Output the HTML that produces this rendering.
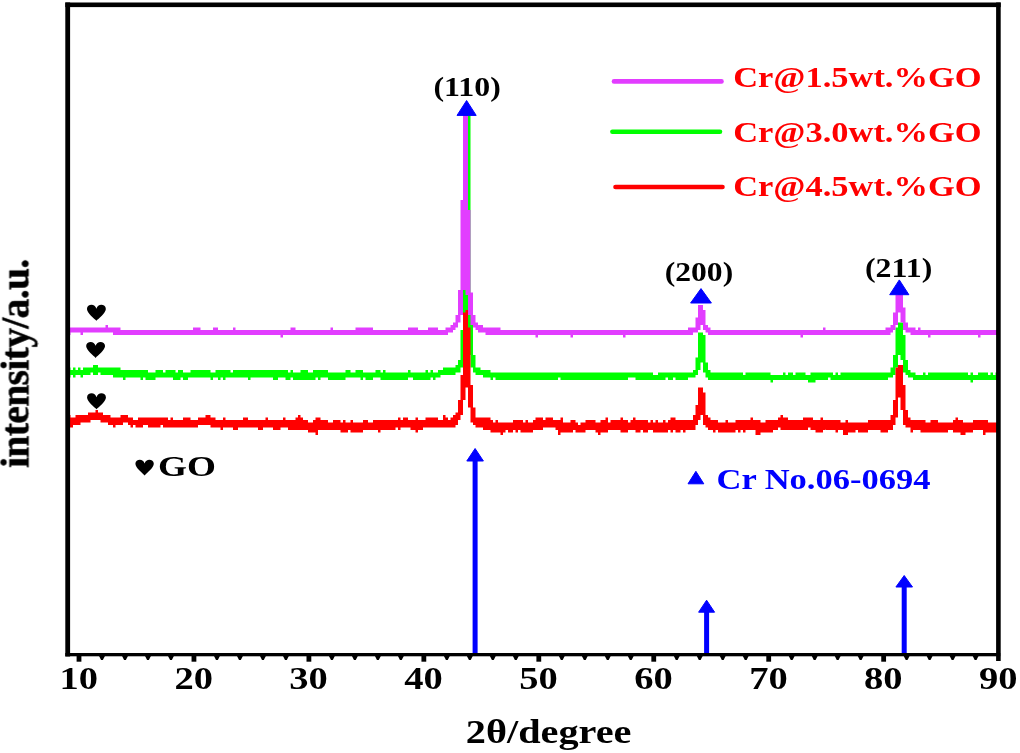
<!DOCTYPE html>
<html lang="en"><head><meta charset="utf-8"><title>XRD patterns</title>
<style>html,body{margin:0;padding:0;background:#fff}body{width:1020px;height:753px;overflow:hidden}svg{display:block}svg text{font-family:"Liberation Serif","DejaVu Serif",serif;font-weight:bold}</style>
</head><body>
<svg width="1020" height="753" viewBox="0 0 1020 753">
<rect width="1020" height="753" fill="#fff"/>
<defs><filter id="soft" x="-2%" y="-2%" width="104%" height="104%"><feGaussianBlur stdDeviation="0.4"/></filter><filter id="soft2" x="-1%" y="-1%" width="102%" height="102%"><feGaussianBlur stdDeviation="0.45"/></filter></defs>
<g id="all" filter="url(#soft2)">
<g id="curves" filter="url(#soft)">
<path d="M68 367.5h2.5v10h-2.5zM70.5 370h2.5v5h-2.5zM73 367.5h2.5v10h-2.5zM75.5 370h2.5v5h-2.5zM78 367.5h2.5v7.5h-2.5zM80.5 370h2.5v7.5h-2.5zM83 367.5h2.5v7.5h-2.5zM85.5 367.5h2.5v7.5h-2.5zM88 367.5h2.5v7.5h-2.5zM90.5 367.5h2.5v5h-2.5zM93 365h2.5v10h-2.5zM95.5 365h2.5v10h-2.5zM98 367.5h2.5v5h-2.5zM100.5 367.5h2.5v7.5h-2.5zM103 367.5h2.5v7.5h-2.5zM105.5 367.5h2.5v7.5h-2.5zM108 367.5h2.5v7.5h-2.5zM110.5 367.5h2.5v7.5h-2.5zM113 367.5h2.5v10h-2.5zM115.5 367.5h2.5v10h-2.5zM118 367.5h2.5v10h-2.5zM120.5 370h2.5v7.5h-2.5zM123 370h2.5v10h-2.5zM125.5 370h2.5v7.5h-2.5zM128 370h2.5v7.5h-2.5zM130.5 370h2.5v7.5h-2.5zM133 370h2.5v7.5h-2.5zM135.5 370h2.5v7.5h-2.5zM138 370h2.5v7.5h-2.5zM140.5 370h2.5v10h-2.5zM143 370h2.5v7.5h-2.5zM145.5 370h2.5v10h-2.5zM148 372.5h2.5v7.5h-2.5zM150.5 372.5h2.5v7.5h-2.5zM153 372.5h2.5v7.5h-2.5zM155.5 370h2.5v7.5h-2.5zM158 370h2.5v7.5h-2.5zM160.5 370h2.5v7.5h-2.5zM163 372.5h2.5v5h-2.5zM165.5 370h2.5v7.5h-2.5zM168 370h2.5v7.5h-2.5zM170.5 370h2.5v7.5h-2.5zM173 370h2.5v10h-2.5zM175.5 372.5h2.5v7.5h-2.5zM178 370h2.5v10h-2.5zM180.5 370h2.5v7.5h-2.5zM183 372.5h2.5v7.5h-2.5zM185.5 372.5h2.5v7.5h-2.5zM188 372.5h2.5v5h-2.5zM190.5 370h2.5v7.5h-2.5zM193 370h2.5v7.5h-2.5zM195.5 370h2.5v7.5h-2.5zM198 370h2.5v7.5h-2.5zM200.5 370h2.5v7.5h-2.5zM203 370h2.5v7.5h-2.5zM205.5 370h2.5v7.5h-2.5zM208 370h2.5v7.5h-2.5zM210.5 372.5h2.5v7.5h-2.5zM213 372.5h2.5v5h-2.5zM215.5 370h2.5v7.5h-2.5zM218 370h2.5v10h-2.5zM220.5 370h2.5v7.5h-2.5zM223 370h2.5v10h-2.5zM225.5 370h2.5v7.5h-2.5zM228 370h2.5v7.5h-2.5zM230.5 372.5h2.5v5h-2.5zM233 370h2.5v7.5h-2.5zM235.5 370h2.5v7.5h-2.5zM238 370h2.5v7.5h-2.5zM240.5 370h2.5v7.5h-2.5zM243 370h2.5v7.5h-2.5zM245.5 370h2.5v7.5h-2.5zM248 370h2.5v10h-2.5zM250.5 370h2.5v7.5h-2.5zM253 370h2.5v7.5h-2.5zM255.5 370h2.5v7.5h-2.5zM258 370h2.5v7.5h-2.5zM260.5 370h2.5v7.5h-2.5zM263 370h2.5v7.5h-2.5zM265.5 370h2.5v7.5h-2.5zM268 370h2.5v7.5h-2.5zM270.5 370h2.5v7.5h-2.5zM273 370h2.5v10h-2.5zM275.5 370h2.5v10h-2.5zM278 370h2.5v7.5h-2.5zM280.5 370h2.5v7.5h-2.5zM283 370h2.5v7.5h-2.5zM285.5 370h2.5v10h-2.5zM288 372.5h2.5v7.5h-2.5zM290.5 370h2.5v7.5h-2.5zM293 372.5h2.5v7.5h-2.5zM295.5 372.5h2.5v7.5h-2.5zM298 372.5h2.5v7.5h-2.5zM300.5 370h2.5v10h-2.5zM303 370h2.5v10h-2.5zM305.5 370h2.5v10h-2.5zM308 372.5h2.5v7.5h-2.5zM310.5 372.5h2.5v7.5h-2.5zM313 370h2.5v10h-2.5zM315.5 370h2.5v7.5h-2.5zM318 370h2.5v10h-2.5zM320.5 370h2.5v7.5h-2.5zM323 370h2.5v7.5h-2.5zM325.5 370h2.5v7.5h-2.5zM328 372.5h2.5v7.5h-2.5zM330.5 372.5h2.5v7.5h-2.5zM333 372.5h2.5v7.5h-2.5zM335.5 372.5h2.5v7.5h-2.5zM338 372.5h2.5v7.5h-2.5zM340.5 372.5h2.5v7.5h-2.5zM343 372.5h2.5v7.5h-2.5zM345.5 370h2.5v7.5h-2.5zM348 370h2.5v7.5h-2.5zM350.5 372.5h2.5v5h-2.5zM353 372.5h2.5v5h-2.5zM355.5 370h2.5v7.5h-2.5zM358 370h2.5v7.5h-2.5zM360.5 370h2.5v10h-2.5zM363 372.5h2.5v5h-2.5zM365.5 372.5h2.5v7.5h-2.5zM368 372.5h2.5v7.5h-2.5zM370.5 372.5h2.5v7.5h-2.5zM373 372.5h2.5v5h-2.5zM375.5 370h2.5v7.5h-2.5zM378 370h2.5v7.5h-2.5zM380.5 372.5h2.5v7.5h-2.5zM383 370h2.5v10h-2.5zM385.5 372.5h2.5v7.5h-2.5zM388 372.5h2.5v7.5h-2.5zM390.5 372.5h2.5v7.5h-2.5zM393 372.5h2.5v7.5h-2.5zM395.5 372.5h2.5v7.5h-2.5zM398 372.5h2.5v7.5h-2.5zM400.5 372.5h2.5v7.5h-2.5zM403 372.5h2.5v7.5h-2.5zM405.5 372.5h2.5v7.5h-2.5zM408 370h2.5v7.5h-2.5zM410.5 372.5h2.5v5h-2.5zM413 372.5h2.5v7.5h-2.5zM415.5 372.5h2.5v7.5h-2.5zM418 372.5h2.5v7.5h-2.5zM420.5 372.5h2.5v7.5h-2.5zM423 372.5h2.5v7.5h-2.5zM425.5 370h2.5v10h-2.5zM428 372.5h2.5v7.5h-2.5zM430.5 370h2.5v7.5h-2.5zM433 372.5h2.5v7.5h-2.5zM435.5 372.5h2.5v5h-2.5zM438 370h2.5v7.5h-2.5zM440.5 370h2.5v5h-2.5zM443 367.5h2.5v7.5h-2.5zM445.5 367.5h2.5v7.5h-2.5zM448 367.5h2.5v7.5h-2.5zM450.5 367.5h2.5v7.5h-2.5zM453 367.5h2.5v7.5h-2.5zM455.5 365h2.5v7.5h-2.5zM458 360h2.5v12.5h-2.5zM460.5 330h2.5v37.5h-2.5zM463 142.5h2.5v217.5h-2.5zM465.5 112.5h2.5v217.5h-2.5zM468 112.5h2.5v242.5h-2.5zM470.5 305h2.5v62.5h-2.5zM473 355h2.5v17.5h-2.5zM475.5 367.5h2.5v7.5h-2.5zM478 367.5h2.5v7.5h-2.5zM480.5 370h2.5v5h-2.5zM483 370h2.5v7.5h-2.5zM485.5 370h2.5v7.5h-2.5zM488 370h2.5v7.5h-2.5zM490.5 372.5h2.5v7.5h-2.5zM493 372.5h2.5v5h-2.5zM495.5 372.5h2.5v7.5h-2.5zM498 372.5h2.5v7.5h-2.5zM500.5 372.5h2.5v7.5h-2.5zM503 372.5h2.5v7.5h-2.5zM505.5 372.5h2.5v7.5h-2.5zM508 372.5h2.5v7.5h-2.5zM510.5 372.5h2.5v7.5h-2.5zM513 372.5h2.5v7.5h-2.5zM515.5 372.5h2.5v7.5h-2.5zM518 372.5h2.5v7.5h-2.5zM520.5 372.5h2.5v7.5h-2.5zM523 372.5h2.5v7.5h-2.5zM525.5 372.5h2.5v7.5h-2.5zM528 372.5h2.5v7.5h-2.5zM530.5 372.5h2.5v7.5h-2.5zM533 372.5h2.5v7.5h-2.5zM535.5 372.5h2.5v7.5h-2.5zM538 372.5h2.5v7.5h-2.5zM540.5 372.5h2.5v7.5h-2.5zM543 372.5h2.5v7.5h-2.5zM545.5 372.5h2.5v7.5h-2.5zM548 372.5h2.5v7.5h-2.5zM550.5 372.5h2.5v7.5h-2.5zM553 372.5h2.5v7.5h-2.5zM555.5 372.5h2.5v7.5h-2.5zM558 372.5h2.5v5h-2.5zM560.5 372.5h2.5v7.5h-2.5zM563 372.5h2.5v7.5h-2.5zM565.5 372.5h2.5v7.5h-2.5zM568 372.5h2.5v7.5h-2.5zM570.5 372.5h2.5v7.5h-2.5zM573 372.5h2.5v7.5h-2.5zM575.5 372.5h2.5v7.5h-2.5zM578 372.5h2.5v7.5h-2.5zM580.5 372.5h2.5v7.5h-2.5zM583 372.5h2.5v7.5h-2.5zM585.5 372.5h2.5v7.5h-2.5zM588 372.5h2.5v7.5h-2.5zM590.5 372.5h2.5v7.5h-2.5zM593 372.5h2.5v7.5h-2.5zM595.5 372.5h2.5v7.5h-2.5zM598 372.5h2.5v7.5h-2.5zM600.5 372.5h2.5v7.5h-2.5zM603 372.5h2.5v7.5h-2.5zM605.5 372.5h2.5v7.5h-2.5zM608 372.5h2.5v7.5h-2.5zM610.5 372.5h2.5v7.5h-2.5zM613 372.5h2.5v7.5h-2.5zM615.5 372.5h2.5v7.5h-2.5zM618 372.5h2.5v7.5h-2.5zM620.5 372.5h2.5v7.5h-2.5zM623 372.5h2.5v7.5h-2.5zM625.5 372.5h2.5v7.5h-2.5zM628 372.5h2.5v5h-2.5zM630.5 372.5h2.5v5h-2.5zM633 372.5h2.5v5h-2.5zM635.5 372.5h2.5v7.5h-2.5zM638 372.5h2.5v7.5h-2.5zM640.5 372.5h2.5v7.5h-2.5zM643 372.5h2.5v7.5h-2.5zM645.5 372.5h2.5v7.5h-2.5zM648 372.5h2.5v7.5h-2.5zM650.5 372.5h2.5v7.5h-2.5zM653 375h2.5v5h-2.5zM655.5 375h2.5v5h-2.5zM658 372.5h2.5v7.5h-2.5zM660.5 372.5h2.5v7.5h-2.5zM663 372.5h2.5v7.5h-2.5zM665.5 372.5h2.5v5h-2.5zM668 372.5h2.5v7.5h-2.5zM670.5 372.5h2.5v7.5h-2.5zM673 372.5h2.5v5h-2.5zM675.5 372.5h2.5v7.5h-2.5zM678 372.5h2.5v7.5h-2.5zM680.5 372.5h2.5v7.5h-2.5zM683 372.5h2.5v7.5h-2.5zM685.5 372.5h2.5v7.5h-2.5zM688 372.5h2.5v5h-2.5zM690.5 372.5h2.5v5h-2.5zM693 370h2.5v7.5h-2.5zM695.5 357.5h2.5v17.5h-2.5zM698 332.5h2.5v37.5h-2.5zM700.5 332.5h2.5v30h-2.5zM703 335h2.5v37.5h-2.5zM705.5 362.5h2.5v15h-2.5zM708 370h2.5v10h-2.5zM710.5 372.5h2.5v7.5h-2.5zM713 372.5h2.5v7.5h-2.5zM715.5 372.5h2.5v7.5h-2.5zM718 372.5h2.5v7.5h-2.5zM720.5 372.5h2.5v7.5h-2.5zM723 372.5h2.5v7.5h-2.5zM725.5 372.5h2.5v7.5h-2.5zM728 372.5h2.5v7.5h-2.5zM730.5 372.5h2.5v7.5h-2.5zM733 372.5h2.5v7.5h-2.5zM735.5 372.5h2.5v7.5h-2.5zM738 372.5h2.5v7.5h-2.5zM740.5 372.5h2.5v7.5h-2.5zM743 375h2.5v5h-2.5zM745.5 372.5h2.5v7.5h-2.5zM748 372.5h2.5v7.5h-2.5zM750.5 372.5h2.5v7.5h-2.5zM753 372.5h2.5v7.5h-2.5zM755.5 372.5h2.5v7.5h-2.5zM758 372.5h2.5v7.5h-2.5zM760.5 372.5h2.5v7.5h-2.5zM763 372.5h2.5v7.5h-2.5zM765.5 372.5h2.5v7.5h-2.5zM768 372.5h2.5v7.5h-2.5zM770.5 375h2.5v7.5h-2.5zM773 375h2.5v5h-2.5zM775.5 375h2.5v5h-2.5zM778 375h2.5v5h-2.5zM780.5 375h2.5v5h-2.5zM783 372.5h2.5v7.5h-2.5zM785.5 375h2.5v5h-2.5zM788 372.5h2.5v7.5h-2.5zM790.5 372.5h2.5v7.5h-2.5zM793 375h2.5v5h-2.5zM795.5 372.5h2.5v7.5h-2.5zM798 372.5h2.5v7.5h-2.5zM800.5 372.5h2.5v7.5h-2.5zM803 372.5h2.5v7.5h-2.5zM805.5 375h2.5v5h-2.5zM808 375h2.5v7.5h-2.5zM810.5 372.5h2.5v10h-2.5zM813 372.5h2.5v10h-2.5zM815.5 372.5h2.5v7.5h-2.5zM818 372.5h2.5v7.5h-2.5zM820.5 372.5h2.5v7.5h-2.5zM823 372.5h2.5v7.5h-2.5zM825.5 372.5h2.5v7.5h-2.5zM828 372.5h2.5v5h-2.5zM830.5 372.5h2.5v7.5h-2.5zM833 375h2.5v5h-2.5zM835.5 372.5h2.5v7.5h-2.5zM838 375h2.5v5h-2.5zM840.5 372.5h2.5v7.5h-2.5zM843 372.5h2.5v7.5h-2.5zM845.5 372.5h2.5v7.5h-2.5zM848 372.5h2.5v7.5h-2.5zM850.5 372.5h2.5v7.5h-2.5zM853 372.5h2.5v7.5h-2.5zM855.5 372.5h2.5v7.5h-2.5zM858 372.5h2.5v7.5h-2.5zM860.5 372.5h2.5v7.5h-2.5zM863 372.5h2.5v7.5h-2.5zM865.5 372.5h2.5v7.5h-2.5zM868 372.5h2.5v7.5h-2.5zM870.5 372.5h2.5v7.5h-2.5zM873 372.5h2.5v7.5h-2.5zM875.5 372.5h2.5v7.5h-2.5zM878 372.5h2.5v7.5h-2.5zM880.5 372.5h2.5v7.5h-2.5zM883 372.5h2.5v7.5h-2.5zM885.5 372.5h2.5v7.5h-2.5zM888 372.5h2.5v5h-2.5zM890.5 367.5h2.5v10h-2.5zM893 355h2.5v20h-2.5zM895.5 327.5h2.5v40h-2.5zM898 322.5h2.5v32.5h-2.5zM900.5 322.5h2.5v37.5h-2.5zM903 335h2.5v37.5h-2.5zM905.5 360h2.5v15h-2.5zM908 370h2.5v7.5h-2.5zM910.5 372.5h2.5v5h-2.5zM913 372.5h2.5v7.5h-2.5zM915.5 375h2.5v5h-2.5zM918 375h2.5v5h-2.5zM920.5 375h2.5v5h-2.5zM923 372.5h2.5v7.5h-2.5zM925.5 375h2.5v5h-2.5zM928 372.5h2.5v7.5h-2.5zM930.5 372.5h2.5v7.5h-2.5zM933 372.5h2.5v7.5h-2.5zM935.5 372.5h2.5v7.5h-2.5zM938 372.5h2.5v7.5h-2.5zM940.5 372.5h2.5v7.5h-2.5zM943 372.5h2.5v7.5h-2.5zM945.5 372.5h2.5v7.5h-2.5zM948 372.5h2.5v7.5h-2.5zM950.5 372.5h2.5v7.5h-2.5zM953 372.5h2.5v7.5h-2.5zM955.5 372.5h2.5v7.5h-2.5zM958 372.5h2.5v7.5h-2.5zM960.5 372.5h2.5v7.5h-2.5zM963 372.5h2.5v7.5h-2.5zM965.5 372.5h2.5v7.5h-2.5zM968 375h2.5v5h-2.5zM970.5 372.5h2.5v10h-2.5zM973 375h2.5v5h-2.5zM975.5 375h2.5v5h-2.5zM978 372.5h2.5v7.5h-2.5zM980.5 372.5h2.5v7.5h-2.5zM983 372.5h2.5v7.5h-2.5zM985.5 372.5h2.5v7.5h-2.5zM988 375h2.5v5h-2.5zM990.5 372.5h2.5v7.5h-2.5zM993 375h2.5v5h-2.5zM995.5 372.5h2.5v7.5h-2.5z" fill="#00ff00"/>
<path d="M68 327.5h2.5v7.5h-2.5zM70.5 327.5h2.5v5h-2.5zM73 327.5h2.5v5h-2.5zM75.5 327.5h2.5v5h-2.5zM78 327.5h2.5v5h-2.5zM80.5 327.5h2.5v7.5h-2.5zM83 327.5h2.5v5h-2.5zM85.5 327.5h2.5v5h-2.5zM88 327.5h2.5v5h-2.5zM90.5 327.5h2.5v5h-2.5zM93 327.5h2.5v5h-2.5zM95.5 327.5h2.5v5h-2.5zM98 327.5h2.5v5h-2.5zM100.5 327.5h2.5v5h-2.5zM103 327.5h2.5v5h-2.5zM105.5 325h2.5v7.5h-2.5zM108 327.5h2.5v5h-2.5zM110.5 327.5h2.5v5h-2.5zM113 327.5h2.5v7.5h-2.5zM115.5 327.5h2.5v7.5h-2.5zM118 327.5h2.5v7.5h-2.5zM120.5 330h2.5v5h-2.5zM123 330h2.5v5h-2.5zM125.5 330h2.5v5h-2.5zM128 330h2.5v5h-2.5zM130.5 330h2.5v5h-2.5zM133 330h2.5v5h-2.5zM135.5 330h2.5v5h-2.5zM138 330h2.5v5h-2.5zM140.5 330h2.5v5h-2.5zM143 330h2.5v5h-2.5zM145.5 330h2.5v5h-2.5zM148 330h2.5v5h-2.5zM150.5 330h2.5v5h-2.5zM153 330h2.5v5h-2.5zM155.5 330h2.5v5h-2.5zM158 330h2.5v5h-2.5zM160.5 330h2.5v5h-2.5zM163 330h2.5v5h-2.5zM165.5 330h2.5v5h-2.5zM168 330h2.5v5h-2.5zM170.5 330h2.5v5h-2.5zM173 330h2.5v5h-2.5zM175.5 330h2.5v5h-2.5zM178 330h2.5v5h-2.5zM180.5 330h2.5v5h-2.5zM183 330h2.5v5h-2.5zM185.5 330h2.5v5h-2.5zM188 330h2.5v5h-2.5zM190.5 330h2.5v5h-2.5zM193 327.5h2.5v7.5h-2.5zM195.5 327.5h2.5v7.5h-2.5zM198 327.5h2.5v7.5h-2.5zM200.5 330h2.5v5h-2.5zM203 330h2.5v5h-2.5zM205.5 330h2.5v5h-2.5zM208 330h2.5v5h-2.5zM210.5 330h2.5v5h-2.5zM213 327.5h2.5v7.5h-2.5zM215.5 327.5h2.5v7.5h-2.5zM218 330h2.5v5h-2.5zM220.5 330h2.5v5h-2.5zM223 330h2.5v5h-2.5zM225.5 330h2.5v5h-2.5zM228 330h2.5v5h-2.5zM230.5 330h2.5v5h-2.5zM233 327.5h2.5v7.5h-2.5zM235.5 330h2.5v5h-2.5zM238 330h2.5v5h-2.5zM240.5 330h2.5v5h-2.5zM243 330h2.5v5h-2.5zM245.5 330h2.5v5h-2.5zM248 330h2.5v5h-2.5zM250.5 330h2.5v5h-2.5zM253 330h2.5v5h-2.5zM255.5 330h2.5v5h-2.5zM258 330h2.5v5h-2.5zM260.5 330h2.5v5h-2.5zM263 330h2.5v5h-2.5zM265.5 330h2.5v5h-2.5zM268 330h2.5v5h-2.5zM270.5 330h2.5v5h-2.5zM273 330h2.5v5h-2.5zM275.5 330h2.5v5h-2.5zM278 330h2.5v5h-2.5zM280.5 330h2.5v7.5h-2.5zM283 330h2.5v5h-2.5zM285.5 330h2.5v5h-2.5zM288 330h2.5v5h-2.5zM290.5 327.5h2.5v7.5h-2.5zM293 327.5h2.5v7.5h-2.5zM295.5 330h2.5v5h-2.5zM298 330h2.5v5h-2.5zM300.5 330h2.5v5h-2.5zM303 330h2.5v5h-2.5zM305.5 330h2.5v5h-2.5zM308 330h2.5v5h-2.5zM310.5 330h2.5v5h-2.5zM313 330h2.5v5h-2.5zM315.5 330h2.5v5h-2.5zM318 330h2.5v5h-2.5zM320.5 330h2.5v5h-2.5zM323 330h2.5v5h-2.5zM325.5 330h2.5v5h-2.5zM328 330h2.5v5h-2.5zM330.5 327.5h2.5v7.5h-2.5zM333 330h2.5v5h-2.5zM335.5 330h2.5v5h-2.5zM338 330h2.5v5h-2.5zM340.5 330h2.5v5h-2.5zM343 330h2.5v5h-2.5zM345.5 330h2.5v5h-2.5zM348 330h2.5v5h-2.5zM350.5 330h2.5v5h-2.5zM353 330h2.5v5h-2.5zM355.5 327.5h2.5v7.5h-2.5zM358 327.5h2.5v7.5h-2.5zM360.5 327.5h2.5v7.5h-2.5zM363 327.5h2.5v7.5h-2.5zM365.5 327.5h2.5v7.5h-2.5zM368 327.5h2.5v7.5h-2.5zM370.5 327.5h2.5v7.5h-2.5zM373 330h2.5v5h-2.5zM375.5 330h2.5v5h-2.5zM378 330h2.5v5h-2.5zM380.5 330h2.5v5h-2.5zM383 330h2.5v5h-2.5zM385.5 330h2.5v5h-2.5zM388 330h2.5v5h-2.5zM390.5 330h2.5v5h-2.5zM393 330h2.5v5h-2.5zM395.5 330h2.5v5h-2.5zM398 330h2.5v5h-2.5zM400.5 330h2.5v5h-2.5zM403 330h2.5v5h-2.5zM405.5 330h2.5v5h-2.5zM408 327.5h2.5v7.5h-2.5zM410.5 327.5h2.5v7.5h-2.5zM413 327.5h2.5v7.5h-2.5zM415.5 327.5h2.5v7.5h-2.5zM418 330h2.5v5h-2.5zM420.5 330h2.5v5h-2.5zM423 330h2.5v5h-2.5zM425.5 330h2.5v5h-2.5zM428 327.5h2.5v7.5h-2.5zM430.5 327.5h2.5v7.5h-2.5zM433 327.5h2.5v7.5h-2.5zM435.5 327.5h2.5v7.5h-2.5zM438 330h2.5v5h-2.5zM440.5 330h2.5v5h-2.5zM443 330h2.5v5h-2.5zM445.5 327.5h2.5v7.5h-2.5zM448 327.5h2.5v5h-2.5zM450.5 325h2.5v7.5h-2.5zM453 322.5h2.5v7.5h-2.5zM455.5 315h2.5v12.5h-2.5zM458 290h2.5v32.5h-2.5zM460.5 200h2.5v115h-2.5zM463 112.5h2.5v177.5h-2.5zM465.5 112.5h2.5v182.5h-2.5zM468 210h2.5v105h-2.5zM470.5 292.5h2.5v32.5h-2.5zM473 315h2.5v12.5h-2.5zM475.5 322.5h2.5v7.5h-2.5zM478 325h2.5v7.5h-2.5zM480.5 325h2.5v7.5h-2.5zM483 327.5h2.5v5h-2.5zM485.5 327.5h2.5v7.5h-2.5zM488 327.5h2.5v7.5h-2.5zM490.5 327.5h2.5v7.5h-2.5zM493 327.5h2.5v7.5h-2.5zM495.5 327.5h2.5v7.5h-2.5zM498 327.5h2.5v7.5h-2.5zM500.5 330h2.5v5h-2.5zM503 330h2.5v5h-2.5zM505.5 330h2.5v5h-2.5zM508 330h2.5v5h-2.5zM510.5 330h2.5v5h-2.5zM513 330h2.5v5h-2.5zM515.5 330h2.5v5h-2.5zM518 330h2.5v5h-2.5zM520.5 330h2.5v5h-2.5zM523 330h2.5v5h-2.5zM525.5 330h2.5v5h-2.5zM528 330h2.5v5h-2.5zM530.5 330h2.5v5h-2.5zM533 330h2.5v5h-2.5zM535.5 330h2.5v7.5h-2.5zM538 330h2.5v5h-2.5zM540.5 330h2.5v5h-2.5zM543 330h2.5v5h-2.5zM545.5 330h2.5v5h-2.5zM548 330h2.5v5h-2.5zM550.5 330h2.5v5h-2.5zM553 330h2.5v5h-2.5zM555.5 330h2.5v5h-2.5zM558 330h2.5v5h-2.5zM560.5 330h2.5v5h-2.5zM563 330h2.5v5h-2.5zM565.5 330h2.5v5h-2.5zM568 330h2.5v5h-2.5zM570.5 330h2.5v7.5h-2.5zM573 330h2.5v5h-2.5zM575.5 330h2.5v5h-2.5zM578 330h2.5v5h-2.5zM580.5 330h2.5v5h-2.5zM583 330h2.5v5h-2.5zM585.5 330h2.5v5h-2.5zM588 330h2.5v5h-2.5zM590.5 330h2.5v5h-2.5zM593 330h2.5v5h-2.5zM595.5 330h2.5v5h-2.5zM598 330h2.5v5h-2.5zM600.5 330h2.5v5h-2.5zM603 330h2.5v5h-2.5zM605.5 330h2.5v5h-2.5zM608 330h2.5v5h-2.5zM610.5 330h2.5v5h-2.5zM613 330h2.5v5h-2.5zM615.5 330h2.5v5h-2.5zM618 330h2.5v5h-2.5zM620.5 330h2.5v5h-2.5zM623 330h2.5v7.5h-2.5zM625.5 330h2.5v5h-2.5zM628 330h2.5v5h-2.5zM630.5 330h2.5v5h-2.5zM633 330h2.5v5h-2.5zM635.5 330h2.5v5h-2.5zM638 330h2.5v5h-2.5zM640.5 330h2.5v5h-2.5zM643 330h2.5v5h-2.5zM645.5 330h2.5v5h-2.5zM648 330h2.5v5h-2.5zM650.5 330h2.5v5h-2.5zM653 330h2.5v5h-2.5zM655.5 330h2.5v5h-2.5zM658 330h2.5v5h-2.5zM660.5 330h2.5v5h-2.5zM663 330h2.5v5h-2.5zM665.5 330h2.5v5h-2.5zM668 330h2.5v5h-2.5zM670.5 330h2.5v5h-2.5zM673 330h2.5v5h-2.5zM675.5 330h2.5v5h-2.5zM678 330h2.5v5h-2.5zM680.5 330h2.5v5h-2.5zM683 330h2.5v5h-2.5zM685.5 330h2.5v5h-2.5zM688 327.5h2.5v7.5h-2.5zM690.5 327.5h2.5v7.5h-2.5zM693 327.5h2.5v5h-2.5zM695.5 317.5h2.5v15h-2.5zM698 305h2.5v25h-2.5zM700.5 305h2.5v20h-2.5zM703 310h2.5v20h-2.5zM705.5 325h2.5v7.5h-2.5zM708 327.5h2.5v7.5h-2.5zM710.5 330h2.5v5h-2.5zM713 330h2.5v5h-2.5zM715.5 330h2.5v5h-2.5zM718 330h2.5v5h-2.5zM720.5 330h2.5v5h-2.5zM723 330h2.5v5h-2.5zM725.5 330h2.5v5h-2.5zM728 330h2.5v5h-2.5zM730.5 330h2.5v5h-2.5zM733 330h2.5v5h-2.5zM735.5 330h2.5v5h-2.5zM738 330h2.5v5h-2.5zM740.5 330h2.5v5h-2.5zM743 330h2.5v5h-2.5zM745.5 330h2.5v5h-2.5zM748 330h2.5v5h-2.5zM750.5 330h2.5v5h-2.5zM753 330h2.5v5h-2.5zM755.5 330h2.5v5h-2.5zM758 330h2.5v5h-2.5zM760.5 330h2.5v5h-2.5zM763 330h2.5v5h-2.5zM765.5 330h2.5v5h-2.5zM768 330h2.5v5h-2.5zM770.5 330h2.5v5h-2.5zM773 330h2.5v5h-2.5zM775.5 330h2.5v5h-2.5zM778 330h2.5v5h-2.5zM780.5 330h2.5v5h-2.5zM783 330h2.5v5h-2.5zM785.5 330h2.5v5h-2.5zM788 330h2.5v5h-2.5zM790.5 330h2.5v5h-2.5zM793 330h2.5v5h-2.5zM795.5 330h2.5v5h-2.5zM798 330h2.5v5h-2.5zM800.5 330h2.5v7.5h-2.5zM803 330h2.5v5h-2.5zM805.5 330h2.5v5h-2.5zM808 330h2.5v5h-2.5zM810.5 330h2.5v5h-2.5zM813 330h2.5v5h-2.5zM815.5 330h2.5v5h-2.5zM818 330h2.5v5h-2.5zM820.5 330h2.5v5h-2.5zM823 327.5h2.5v7.5h-2.5zM825.5 330h2.5v5h-2.5zM828 330h2.5v5h-2.5zM830.5 330h2.5v5h-2.5zM833 330h2.5v5h-2.5zM835.5 330h2.5v5h-2.5zM838 330h2.5v5h-2.5zM840.5 330h2.5v5h-2.5zM843 330h2.5v5h-2.5zM845.5 330h2.5v5h-2.5zM848 330h2.5v5h-2.5zM850.5 330h2.5v5h-2.5zM853 330h2.5v5h-2.5zM855.5 330h2.5v5h-2.5zM858 330h2.5v5h-2.5zM860.5 330h2.5v5h-2.5zM863 330h2.5v5h-2.5zM865.5 330h2.5v5h-2.5zM868 330h2.5v5h-2.5zM870.5 330h2.5v5h-2.5zM873 330h2.5v5h-2.5zM875.5 330h2.5v5h-2.5zM878 330h2.5v5h-2.5zM880.5 330h2.5v5h-2.5zM883 330h2.5v5h-2.5zM885.5 327.5h2.5v7.5h-2.5zM888 327.5h2.5v7.5h-2.5zM890.5 325h2.5v7.5h-2.5zM893 312.5h2.5v17.5h-2.5zM895.5 295h2.5v30h-2.5zM898 292.5h2.5v20h-2.5zM900.5 295h2.5v27.5h-2.5zM903 307.5h2.5v22.5h-2.5zM905.5 322.5h2.5v10h-2.5zM908 327.5h2.5v5h-2.5zM910.5 327.5h2.5v7.5h-2.5zM913 327.5h2.5v7.5h-2.5zM915.5 330h2.5v5h-2.5zM918 327.5h2.5v7.5h-2.5zM920.5 330h2.5v5h-2.5zM923 330h2.5v5h-2.5zM925.5 330h2.5v5h-2.5zM928 330h2.5v7.5h-2.5zM930.5 330h2.5v5h-2.5zM933 330h2.5v5h-2.5zM935.5 330h2.5v5h-2.5zM938 330h2.5v5h-2.5zM940.5 330h2.5v5h-2.5zM943 330h2.5v5h-2.5zM945.5 330h2.5v5h-2.5zM948 330h2.5v5h-2.5zM950.5 330h2.5v5h-2.5zM953 330h2.5v5h-2.5zM955.5 330h2.5v5h-2.5zM958 330h2.5v5h-2.5zM960.5 330h2.5v5h-2.5zM963 330h2.5v5h-2.5zM965.5 330h2.5v5h-2.5zM968 330h2.5v5h-2.5zM970.5 330h2.5v5h-2.5zM973 330h2.5v5h-2.5zM975.5 330h2.5v5h-2.5zM978 330h2.5v7.5h-2.5zM980.5 330h2.5v5h-2.5zM983 330h2.5v5h-2.5zM985.5 330h2.5v5h-2.5zM988 330h2.5v5h-2.5zM990.5 330h2.5v5h-2.5zM993 330h2.5v5h-2.5zM995.5 330h2.5v5h-2.5z" fill="#e23cff"/>
<path d="M68 415h2.5v12.5h-2.5zM70.5 417.5h2.5v10h-2.5zM73 417.5h2.5v7.5h-2.5zM75.5 415h2.5v10h-2.5zM78 415h2.5v10h-2.5zM80.5 415h2.5v7.5h-2.5zM83 415h2.5v7.5h-2.5zM85.5 415h2.5v7.5h-2.5zM88 412.5h2.5v10h-2.5zM90.5 412.5h2.5v7.5h-2.5zM93 412.5h2.5v7.5h-2.5zM95.5 410h2.5v10h-2.5zM98 412.5h2.5v7.5h-2.5zM100.5 412.5h2.5v10h-2.5zM103 415h2.5v7.5h-2.5zM105.5 415h2.5v7.5h-2.5zM108 415h2.5v10h-2.5zM110.5 417.5h2.5v7.5h-2.5zM113 417.5h2.5v10h-2.5zM115.5 417.5h2.5v7.5h-2.5zM118 417.5h2.5v7.5h-2.5zM120.5 415h2.5v10h-2.5zM123 415h2.5v7.5h-2.5zM125.5 415h2.5v7.5h-2.5zM128 417.5h2.5v7.5h-2.5zM130.5 417.5h2.5v10h-2.5zM133 420h2.5v5h-2.5zM135.5 420h2.5v7.5h-2.5zM138 417.5h2.5v10h-2.5zM140.5 417.5h2.5v10h-2.5zM143 417.5h2.5v7.5h-2.5zM145.5 417.5h2.5v7.5h-2.5zM148 417.5h2.5v10h-2.5zM150.5 417.5h2.5v10h-2.5zM153 417.5h2.5v10h-2.5zM155.5 417.5h2.5v10h-2.5zM158 417.5h2.5v10h-2.5zM160.5 417.5h2.5v7.5h-2.5zM163 417.5h2.5v10h-2.5zM165.5 417.5h2.5v10h-2.5zM168 420h2.5v7.5h-2.5zM170.5 417.5h2.5v10h-2.5zM173 420h2.5v7.5h-2.5zM175.5 420h2.5v7.5h-2.5zM178 420h2.5v7.5h-2.5zM180.5 420h2.5v7.5h-2.5zM183 417.5h2.5v10h-2.5zM185.5 417.5h2.5v10h-2.5zM188 417.5h2.5v10h-2.5zM190.5 420h2.5v7.5h-2.5zM193 420h2.5v7.5h-2.5zM195.5 420h2.5v7.5h-2.5zM198 417.5h2.5v7.5h-2.5zM200.5 417.5h2.5v7.5h-2.5zM203 417.5h2.5v7.5h-2.5zM205.5 415h2.5v10h-2.5zM208 415h2.5v10h-2.5zM210.5 417.5h2.5v10h-2.5zM213 417.5h2.5v10h-2.5zM215.5 420h2.5v7.5h-2.5zM218 420h2.5v7.5h-2.5zM220.5 420h2.5v10h-2.5zM223 417.5h2.5v10h-2.5zM225.5 420h2.5v7.5h-2.5zM228 420h2.5v7.5h-2.5zM230.5 420h2.5v7.5h-2.5zM233 420h2.5v10h-2.5zM235.5 420h2.5v10h-2.5zM238 420h2.5v7.5h-2.5zM240.5 420h2.5v7.5h-2.5zM243 417.5h2.5v10h-2.5zM245.5 417.5h2.5v10h-2.5zM248 420h2.5v7.5h-2.5zM250.5 420h2.5v7.5h-2.5zM253 420h2.5v7.5h-2.5zM255.5 420h2.5v7.5h-2.5zM258 420h2.5v10h-2.5zM260.5 420h2.5v10h-2.5zM263 420h2.5v7.5h-2.5zM265.5 417.5h2.5v10h-2.5zM268 420h2.5v7.5h-2.5zM270.5 420h2.5v7.5h-2.5zM273 420h2.5v10h-2.5zM275.5 420h2.5v10h-2.5zM278 420h2.5v10h-2.5zM280.5 420h2.5v7.5h-2.5zM283 417.5h2.5v10h-2.5zM285.5 420h2.5v7.5h-2.5zM288 420h2.5v10h-2.5zM290.5 420h2.5v10h-2.5zM293 420h2.5v10h-2.5zM295.5 417.5h2.5v12.5h-2.5zM298 415h2.5v15h-2.5zM300.5 417.5h2.5v12.5h-2.5zM303 420h2.5v10h-2.5zM305.5 420h2.5v10h-2.5zM308 422.5h2.5v10h-2.5zM310.5 422.5h2.5v10h-2.5zM313 420h2.5v12.5h-2.5zM315.5 417.5h2.5v17.5h-2.5zM318 417.5h2.5v12.5h-2.5zM320.5 420h2.5v10h-2.5zM323 420h2.5v10h-2.5zM325.5 420h2.5v10h-2.5zM328 422.5h2.5v7.5h-2.5zM330.5 422.5h2.5v7.5h-2.5zM333 420h2.5v10h-2.5zM335.5 420h2.5v10h-2.5zM338 420h2.5v10h-2.5zM340.5 422.5h2.5v10h-2.5zM343 420h2.5v12.5h-2.5zM345.5 422.5h2.5v10h-2.5zM348 422.5h2.5v7.5h-2.5zM350.5 420h2.5v12.5h-2.5zM353 422.5h2.5v10h-2.5zM355.5 422.5h2.5v10h-2.5zM358 422.5h2.5v10h-2.5zM360.5 422.5h2.5v10h-2.5zM363 420h2.5v10h-2.5zM365.5 420h2.5v10h-2.5zM368 422.5h2.5v7.5h-2.5zM370.5 422.5h2.5v7.5h-2.5zM373 420h2.5v10h-2.5zM375.5 420h2.5v10h-2.5zM378 420h2.5v12.5h-2.5zM380.5 420h2.5v10h-2.5zM383 420h2.5v10h-2.5zM385.5 420h2.5v10h-2.5zM388 420h2.5v10h-2.5zM390.5 420h2.5v10h-2.5zM393 420h2.5v10h-2.5zM395.5 420h2.5v7.5h-2.5zM398 417.5h2.5v12.5h-2.5zM400.5 420h2.5v7.5h-2.5zM403 417.5h2.5v10h-2.5zM405.5 417.5h2.5v10h-2.5zM408 420h2.5v7.5h-2.5zM410.5 420h2.5v10h-2.5zM413 420h2.5v10h-2.5zM415.5 417.5h2.5v15h-2.5zM418 420h2.5v10h-2.5zM420.5 420h2.5v10h-2.5zM423 420h2.5v7.5h-2.5zM425.5 417.5h2.5v10h-2.5zM428 417.5h2.5v10h-2.5zM430.5 417.5h2.5v10h-2.5zM433 417.5h2.5v10h-2.5zM435.5 417.5h2.5v10h-2.5zM438 420h2.5v7.5h-2.5zM440.5 420h2.5v7.5h-2.5zM443 415h2.5v12.5h-2.5zM445.5 417.5h2.5v10h-2.5zM448 420h2.5v7.5h-2.5zM450.5 417.5h2.5v10h-2.5zM453 415h2.5v12.5h-2.5zM455.5 412.5h2.5v12.5h-2.5zM458 400h2.5v20h-2.5zM460.5 375h2.5v40h-2.5zM463 312.5h2.5v87.5h-2.5zM465.5 310h2.5v77.5h-2.5zM468 327.5h2.5v80h-2.5zM470.5 385h2.5v37.5h-2.5zM473 407.5h2.5v17.5h-2.5zM475.5 417.5h2.5v10h-2.5zM478 417.5h2.5v10h-2.5zM480.5 417.5h2.5v10h-2.5zM483 417.5h2.5v12.5h-2.5zM485.5 417.5h2.5v12.5h-2.5zM488 417.5h2.5v12.5h-2.5zM490.5 420h2.5v12.5h-2.5zM493 422.5h2.5v10h-2.5zM495.5 420h2.5v12.5h-2.5zM498 422.5h2.5v10h-2.5zM500.5 422.5h2.5v12.5h-2.5zM503 422.5h2.5v10h-2.5zM505.5 422.5h2.5v7.5h-2.5zM508 422.5h2.5v10h-2.5zM510.5 422.5h2.5v10h-2.5zM513 420h2.5v10h-2.5zM515.5 420h2.5v12.5h-2.5zM518 420h2.5v10h-2.5zM520.5 420h2.5v12.5h-2.5zM523 422.5h2.5v10h-2.5zM525.5 420h2.5v12.5h-2.5zM528 422.5h2.5v10h-2.5zM530.5 422.5h2.5v10h-2.5zM533 420h2.5v10h-2.5zM535.5 417.5h2.5v12.5h-2.5zM538 417.5h2.5v12.5h-2.5zM540.5 417.5h2.5v12.5h-2.5zM543 420h2.5v7.5h-2.5zM545.5 417.5h2.5v10h-2.5zM548 417.5h2.5v10h-2.5zM550.5 417.5h2.5v10h-2.5zM553 420h2.5v7.5h-2.5zM555.5 420h2.5v10h-2.5zM558 420h2.5v15h-2.5zM560.5 417.5h2.5v15h-2.5zM563 422.5h2.5v10h-2.5zM565.5 422.5h2.5v10h-2.5zM568 422.5h2.5v10h-2.5zM570.5 420h2.5v12.5h-2.5zM573 420h2.5v10h-2.5zM575.5 422.5h2.5v10h-2.5zM578 425h2.5v7.5h-2.5zM580.5 422.5h2.5v10h-2.5zM583 422.5h2.5v10h-2.5zM585.5 420h2.5v10h-2.5zM588 420h2.5v10h-2.5zM590.5 420h2.5v10h-2.5zM593 420h2.5v10h-2.5zM595.5 422.5h2.5v10h-2.5zM598 422.5h2.5v12.5h-2.5zM600.5 420h2.5v12.5h-2.5zM603 420h2.5v12.5h-2.5zM605.5 417.5h2.5v15h-2.5zM608 422.5h2.5v7.5h-2.5zM610.5 420h2.5v10h-2.5zM613 420h2.5v10h-2.5zM615.5 420h2.5v10h-2.5zM618 420h2.5v10h-2.5zM620.5 417.5h2.5v15h-2.5zM623 420h2.5v12.5h-2.5zM625.5 420h2.5v12.5h-2.5zM628 422.5h2.5v7.5h-2.5zM630.5 420h2.5v10h-2.5zM633 417.5h2.5v12.5h-2.5zM635.5 420h2.5v12.5h-2.5zM638 420h2.5v12.5h-2.5zM640.5 420h2.5v10h-2.5zM643 420h2.5v12.5h-2.5zM645.5 420h2.5v12.5h-2.5zM648 422.5h2.5v7.5h-2.5zM650.5 420h2.5v10h-2.5zM653 422.5h2.5v10h-2.5zM655.5 420h2.5v12.5h-2.5zM658 422.5h2.5v10h-2.5zM660.5 422.5h2.5v10h-2.5zM663 420h2.5v12.5h-2.5zM665.5 422.5h2.5v10h-2.5zM668 420h2.5v10h-2.5zM670.5 417.5h2.5v15h-2.5zM673 417.5h2.5v12.5h-2.5zM675.5 420h2.5v12.5h-2.5zM678 420h2.5v12.5h-2.5zM680.5 420h2.5v10h-2.5zM683 420h2.5v12.5h-2.5zM685.5 420h2.5v10h-2.5zM688 420h2.5v10h-2.5zM690.5 420h2.5v10h-2.5zM693 415h2.5v15h-2.5zM695.5 405h2.5v20h-2.5zM698 387.5h2.5v32.5h-2.5zM700.5 387.5h2.5v27.5h-2.5zM703 392.5h2.5v32.5h-2.5zM705.5 415h2.5v12.5h-2.5zM708 417.5h2.5v12.5h-2.5zM710.5 420h2.5v10h-2.5zM713 420h2.5v12.5h-2.5zM715.5 420h2.5v10h-2.5zM718 422.5h2.5v10h-2.5zM720.5 422.5h2.5v10h-2.5zM723 422.5h2.5v10h-2.5zM725.5 420h2.5v12.5h-2.5zM728 422.5h2.5v10h-2.5zM730.5 422.5h2.5v10h-2.5zM733 422.5h2.5v10h-2.5zM735.5 420h2.5v10h-2.5zM738 420h2.5v12.5h-2.5zM740.5 420h2.5v10h-2.5zM743 420h2.5v12.5h-2.5zM745.5 420h2.5v10h-2.5zM748 420h2.5v10h-2.5zM750.5 417.5h2.5v12.5h-2.5zM753 420h2.5v10h-2.5zM755.5 420h2.5v15h-2.5zM758 420h2.5v15h-2.5zM760.5 422.5h2.5v10h-2.5zM763 422.5h2.5v10h-2.5zM765.5 420h2.5v12.5h-2.5zM768 420h2.5v12.5h-2.5zM770.5 420h2.5v12.5h-2.5zM773 420h2.5v10h-2.5zM775.5 420h2.5v10h-2.5zM778 417.5h2.5v10h-2.5zM780.5 415h2.5v15h-2.5zM783 417.5h2.5v12.5h-2.5zM785.5 417.5h2.5v12.5h-2.5zM788 420h2.5v10h-2.5zM790.5 420h2.5v10h-2.5zM793 420h2.5v10h-2.5zM795.5 420h2.5v10h-2.5zM798 420h2.5v10h-2.5zM800.5 420h2.5v10h-2.5zM803 417.5h2.5v12.5h-2.5zM805.5 417.5h2.5v12.5h-2.5zM808 417.5h2.5v10h-2.5zM810.5 417.5h2.5v12.5h-2.5zM813 420h2.5v10h-2.5zM815.5 420h2.5v12.5h-2.5zM818 420h2.5v12.5h-2.5zM820.5 417.5h2.5v15h-2.5zM823 420h2.5v10h-2.5zM825.5 420h2.5v10h-2.5zM828 420h2.5v10h-2.5zM830.5 420h2.5v10h-2.5zM833 420h2.5v10h-2.5zM835.5 420h2.5v12.5h-2.5zM838 420h2.5v10h-2.5zM840.5 422.5h2.5v7.5h-2.5zM843 422.5h2.5v12.5h-2.5zM845.5 420h2.5v15h-2.5zM848 422.5h2.5v10h-2.5zM850.5 422.5h2.5v10h-2.5zM853 422.5h2.5v10h-2.5zM855.5 422.5h2.5v7.5h-2.5zM858 422.5h2.5v10h-2.5zM860.5 422.5h2.5v10h-2.5zM863 422.5h2.5v10h-2.5zM865.5 422.5h2.5v10h-2.5zM868 420h2.5v10h-2.5zM870.5 420h2.5v10h-2.5zM873 420h2.5v10h-2.5zM875.5 420h2.5v10h-2.5zM878 420h2.5v10h-2.5zM880.5 420h2.5v12.5h-2.5zM883 420h2.5v12.5h-2.5zM885.5 420h2.5v12.5h-2.5zM888 420h2.5v10h-2.5zM890.5 415h2.5v15h-2.5zM893 400h2.5v25h-2.5zM895.5 367.5h2.5v50h-2.5zM898 365h2.5v32.5h-2.5zM900.5 365h2.5v45h-2.5zM903 385h2.5v40h-2.5zM905.5 410h2.5v17.5h-2.5zM908 417.5h2.5v10h-2.5zM910.5 420h2.5v12.5h-2.5zM913 420h2.5v10h-2.5zM915.5 420h2.5v10h-2.5zM918 420h2.5v10h-2.5zM920.5 420h2.5v12.5h-2.5zM923 420h2.5v12.5h-2.5zM925.5 422.5h2.5v10h-2.5zM928 422.5h2.5v10h-2.5zM930.5 420h2.5v12.5h-2.5zM933 420h2.5v12.5h-2.5zM935.5 420h2.5v12.5h-2.5zM938 422.5h2.5v10h-2.5zM940.5 422.5h2.5v10h-2.5zM943 422.5h2.5v10h-2.5zM945.5 422.5h2.5v10h-2.5zM948 422.5h2.5v7.5h-2.5zM950.5 422.5h2.5v7.5h-2.5zM953 420h2.5v12.5h-2.5zM955.5 417.5h2.5v15h-2.5zM958 420h2.5v12.5h-2.5zM960.5 420h2.5v15h-2.5zM963 422.5h2.5v12.5h-2.5zM965.5 422.5h2.5v10h-2.5zM968 422.5h2.5v10h-2.5zM970.5 422.5h2.5v10h-2.5zM973 420h2.5v10h-2.5zM975.5 420h2.5v10h-2.5zM978 420h2.5v10h-2.5zM980.5 420h2.5v10h-2.5zM983 420h2.5v15h-2.5zM985.5 420h2.5v12.5h-2.5zM988 422.5h2.5v10h-2.5zM990.5 422.5h2.5v10h-2.5zM993 422.5h2.5v10h-2.5zM995.5 422.5h2.5v10h-2.5z" fill="#ff0000"/>
</g>
<g id="ref">
<rect x="472.60" y="460.00" width="5" height="195.00" fill="#0000ff"/><polygon points="475.10,448.50 483.40,461.00 466.80,461.00" fill="#0000ff" stroke="#0000ff" stroke-width="1" stroke-linejoin="round"/>
<rect x="704.10" y="611.20" width="5" height="43.80" fill="#0000ff"/><polygon points="706.60,600.20 714.60,612.20 698.60,612.20" fill="#0000ff" stroke="#0000ff" stroke-width="1" stroke-linejoin="round"/>
<rect x="901.70" y="586.00" width="5" height="69.00" fill="#0000ff"/><polygon points="904.20,575.50 912.50,587.00 895.90,587.00" fill="#0000ff" stroke="#0000ff" stroke-width="1" stroke-linejoin="round"/>
</g>
<g id="tri">
<polygon points="466.60,100.50 476.20,115.40 457.00,115.40" fill="#0000ff" stroke="#0000ff" stroke-width="1" stroke-linejoin="round"/>
<polygon points="701.00,288.60 711.40,303.00 690.60,303.00" fill="#0000ff" stroke="#0000ff" stroke-width="1" stroke-linejoin="round"/>
<polygon points="899.30,279.90 908.90,294.70 889.70,294.70" fill="#0000ff" stroke="#0000ff" stroke-width="1" stroke-linejoin="round"/>
<polygon points="695.90,471.30 703.80,483.80 688.00,483.80" fill="#0000ff" stroke="#0000ff" stroke-width="1" stroke-linejoin="round"/>
</g>
<g id="frame" fill="#000">
<rect x="65.3" y="2.5" width="4.8" height="654"/>
<rect x="65.3" y="2.5" width="935.4" height="4.6"/>
<rect x="996.1" y="2.5" width="4.6" height="658.5"/>
<rect x="65.3" y="653.0" width="935" height="3.3"/>
<rect x="76.60" y="655" width="4.8" height="6.7"/>
<polygon points="98.79,655.5 105.19,655.5 102.89,659.9 101.09,659.9"/>
<polygon points="121.78,655.5 128.18,655.5 125.88,659.9 124.08,659.9"/>
<polygon points="144.77,655.5 151.17,655.5 148.87,659.9 147.07,659.9"/>
<polygon points="167.76,655.5 174.16,655.5 171.86,659.9 170.06,659.9"/>
<rect x="191.55" y="655" width="4.8" height="6.7"/>
<polygon points="213.74,655.5 220.14,655.5 217.84,659.9 216.04,659.9"/>
<polygon points="236.73,655.5 243.13,655.5 240.83,659.9 239.03,659.9"/>
<polygon points="259.72,655.5 266.12,655.5 263.82,659.9 262.02,659.9"/>
<polygon points="282.71,655.5 289.11,655.5 286.81,659.9 285.01,659.9"/>
<rect x="306.50" y="655" width="4.8" height="6.7"/>
<polygon points="328.69,655.5 335.09,655.5 332.79,659.9 330.99,659.9"/>
<polygon points="351.68,655.5 358.08,655.5 355.78,659.9 353.98,659.9"/>
<polygon points="374.67,655.5 381.07,655.5 378.77,659.9 376.97,659.9"/>
<polygon points="397.66,655.5 404.06,655.5 401.76,659.9 399.96,659.9"/>
<rect x="421.45" y="655" width="4.8" height="6.7"/>
<polygon points="443.64,655.5 450.04,655.5 447.74,659.9 445.94,659.9"/>
<polygon points="466.63,655.5 473.03,655.5 470.73,659.9 468.93,659.9"/>
<polygon points="489.62,655.5 496.02,655.5 493.72,659.9 491.92,659.9"/>
<polygon points="512.61,655.5 519.01,655.5 516.71,659.9 514.91,659.9"/>
<rect x="536.40" y="655" width="4.8" height="6.7"/>
<polygon points="558.59,655.5 564.99,655.5 562.69,659.9 560.89,659.9"/>
<polygon points="581.58,655.5 587.98,655.5 585.68,659.9 583.88,659.9"/>
<polygon points="604.57,655.5 610.97,655.5 608.67,659.9 606.87,659.9"/>
<polygon points="627.56,655.5 633.96,655.5 631.66,659.9 629.86,659.9"/>
<rect x="651.35" y="655" width="4.8" height="6.7"/>
<polygon points="673.54,655.5 679.94,655.5 677.64,659.9 675.84,659.9"/>
<polygon points="696.53,655.5 702.93,655.5 700.63,659.9 698.83,659.9"/>
<polygon points="719.52,655.5 725.92,655.5 723.62,659.9 721.82,659.9"/>
<polygon points="742.51,655.5 748.91,655.5 746.61,659.9 744.81,659.9"/>
<rect x="766.30" y="655" width="4.8" height="6.7"/>
<polygon points="788.49,655.5 794.89,655.5 792.59,659.9 790.79,659.9"/>
<polygon points="811.48,655.5 817.88,655.5 815.58,659.9 813.78,659.9"/>
<polygon points="834.47,655.5 840.87,655.5 838.57,659.9 836.77,659.9"/>
<polygon points="857.46,655.5 863.86,655.5 861.56,659.9 859.76,659.9"/>
<rect x="881.25" y="655" width="4.8" height="6.7"/>
<polygon points="903.44,655.5 909.84,655.5 907.54,659.9 905.74,659.9"/>
<polygon points="926.43,655.5 932.83,655.5 930.53,659.9 928.73,659.9"/>
<polygon points="949.42,655.5 955.82,655.5 953.52,659.9 951.72,659.9"/>
<polygon points="972.41,655.5 978.81,655.5 976.51,659.9 974.71,659.9"/>
</g>
<g id="ticklabels" text-anchor="middle">
<text transform="translate(78.70,689.0) scale(1.25,1)" font-size="30.81">10</text>
<text transform="translate(193.65,689.0) scale(1.25,1)" font-size="30.81">20</text>
<text transform="translate(308.60,689.0) scale(1.25,1)" font-size="30.81">30</text>
<text transform="translate(423.55,689.0) scale(1.25,1)" font-size="30.81">40</text>
<text transform="translate(538.50,689.0) scale(1.25,1)" font-size="30.81">50</text>
<text transform="translate(653.45,689.0) scale(1.25,1)" font-size="30.81">60</text>
<text transform="translate(768.40,689.0) scale(1.25,1)" font-size="30.81">70</text>
<text transform="translate(883.35,689.0) scale(1.25,1)" font-size="30.81">80</text>
<text transform="translate(998.30,689.0) scale(1.25,1)" font-size="30.81">90</text>
</g>
<text transform="translate(465.79,742.60) scale(1.2017,1)" font-size="33.53" fill="#000" >2θ/degree</text>
<text transform="translate(28.5,467.9) rotate(-90)" font-size="39.5" letter-spacing="-0.62" stroke="#000" stroke-width="0.5" stroke-linejoin="round">intensity/a.u.</text>
<text transform="translate(433.46,95.60) scale(1.1558,1)" font-size="27.60" fill="#000" >(110)</text>
<text transform="translate(664.68,280.70) scale(1.1462,1)" font-size="27.60" fill="#000" >(200)</text>
<text transform="translate(864.96,277.40) scale(1.1558,1)" font-size="27.60" fill="#000" >(211)</text>
<line x1="614" y1="81.4" x2="721.5" y2="81.4" stroke="#e23cff" stroke-width="4.6" stroke-linecap="round"/>
<line x1="612.4" y1="131.7" x2="720" y2="131.7" stroke="#00ff00" stroke-width="4.6" stroke-linecap="round"/>
<line x1="615.5" y1="187.0" x2="722.5" y2="187.0" stroke="#ff0000" stroke-width="4.6" stroke-linecap="round"/>
<text transform="translate(733.18,87.00) scale(1.1806,1)" font-size="29.20" fill="#ff0000" >Cr@1.5wt.%GO</text>
<text transform="translate(733.18,142.00) scale(1.1806,1)" font-size="29.20" fill="#ff0000" >Cr@3.0wt.%GO</text>
<text transform="translate(733.18,196.00) scale(1.1806,1)" font-size="29.20" fill="#ff0000" >Cr@4.5wt.%GO</text>
<text transform="translate(158.04,475.50) scale(1.3096,1)" font-size="28.40" fill="#000" >GO</text>
<text transform="translate(716.47,488.90) scale(1.1899,1)" font-size="29.00" fill="#0000ff" >Cr No.06-0694</text>
<g id="hearts">
<path transform="translate(96.40,304.80) scale(18.90,16.00)" d="M0,1 C-0.10,0.86 -0.50,0.52 -0.50,0.26 C-0.50,0.08 -0.38,0 -0.26,0 C-0.14,0 -0.04,0.08 0,0.24 C0.04,0.08 0.14,0 0.26,0 C0.38,0 0.50,0.08 0.50,0.26 C0.50,0.52 0.10,0.86 0,1 Z" fill="#000"/>
<path transform="translate(95.60,341.90) scale(18.90,16.00)" d="M0,1 C-0.10,0.86 -0.50,0.52 -0.50,0.26 C-0.50,0.08 -0.38,0 -0.26,0 C-0.14,0 -0.04,0.08 0,0.24 C0.04,0.08 0.14,0 0.26,0 C0.38,0 0.50,0.08 0.50,0.26 C0.50,0.52 0.10,0.86 0,1 Z" fill="#000"/>
<path transform="translate(96.50,393.30) scale(18.90,16.00)" d="M0,1 C-0.10,0.86 -0.50,0.52 -0.50,0.26 C-0.50,0.08 -0.38,0 -0.26,0 C-0.14,0 -0.04,0.08 0,0.24 C0.04,0.08 0.14,0 0.26,0 C0.38,0 0.50,0.08 0.50,0.26 C0.50,0.52 0.10,0.86 0,1 Z" fill="#000"/>
<path transform="translate(144.60,459.70) scale(18.40,15.70)" d="M0,1 C-0.10,0.86 -0.50,0.52 -0.50,0.26 C-0.50,0.08 -0.38,0 -0.26,0 C-0.14,0 -0.04,0.08 0,0.24 C0.04,0.08 0.14,0 0.26,0 C0.38,0 0.50,0.08 0.50,0.26 C0.50,0.52 0.10,0.86 0,1 Z" fill="#000"/>
</g>
</g>
</svg>
</body></html>
